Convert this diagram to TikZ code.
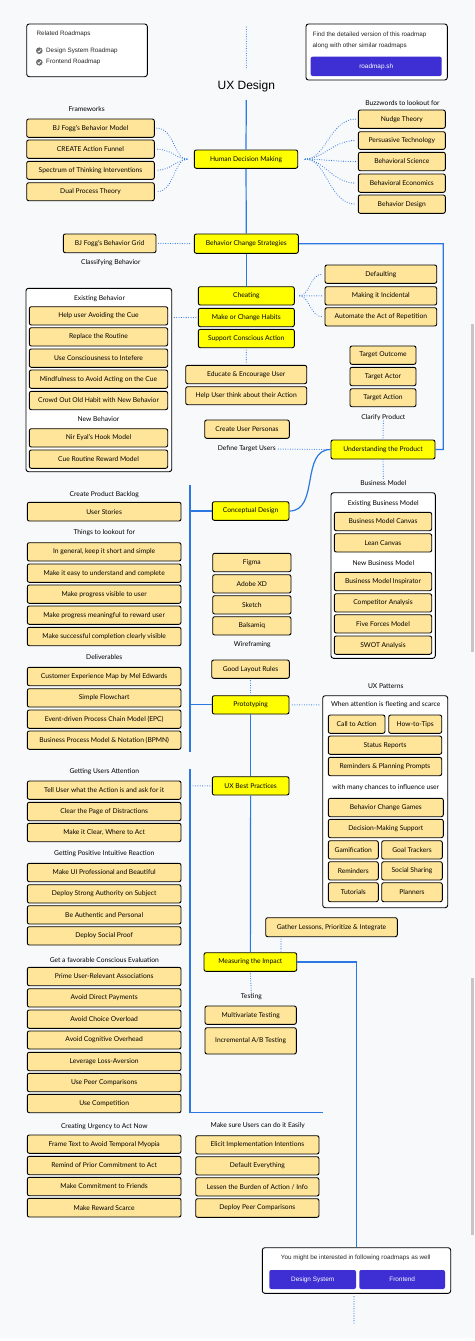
\documentclass[tikz,border=0pt]{standalone}
\usepackage{fontspec}
\setmainfont{Lato}
\newfontfamily\uifont{Liberation Sans}
\usetikzlibrary{calc}
\definecolor{bgc}{HTML}{F8F9FA}
\definecolor{subc}{HTML}{FFE599}
\definecolor{mainc}{HTML}{FFFF00}
\definecolor{lnc}{HTML}{2B78E4}
\definecolor{btnc}{HTML}{3D2FD4}
\definecolor{sbc}{HTML}{C6C6C6}
\definecolor{icc}{HTML}{6E6E6E}
\newcommand\bx[7]{\node[#1, minimum width={(#5)-(#3)}, minimum height={(#6)-(#4)}] (#2) at ({((#3)+(#5))/2},{((#4)+(#6))/2}) {#7};}
\tikzset{
 boxbase/.style={draw=black, line width=0.9pt, rounded corners=2pt, inner sep=0pt, align=center, font=\fontsize{6.7}{7.8}\selectfont, text=black},
 sub/.style={boxbase, fill=subc},
 mainbox/.style={boxbase, fill=mainc},
 cont/.style={draw=black, line width=0.9pt, rounded corners=2.5pt, fill=white, inner sep=0pt},
 btn/.style={fill=btnc, rounded corners=2pt, inner sep=0pt, text=white, font=\uifont\fontsize{6.4}{7.5}\selectfont},
 lbl/.style={inner sep=0.5pt, font=\fontsize{6.7}{7.8}\selectfont, text=black},
 uilbl/.style={inner sep=0.5pt, font=\uifont\fontsize{6.3}{7.5}\selectfont, text=black!85},
 conn/.style={draw=lnc, line width=1.2pt},
 dotc/.style={draw=lnc, line width=1.1pt, line cap=round, dash pattern=on 0pt off 2.4pt},
}
\begin{document}
\begin{tikzpicture}[x=1pt,y=-1pt]
\useasboundingbox (0,0) rectangle (474,1341);
\fill[bgc] (0,0) rectangle (474,1338.3);
\fill[sbc] (470.8,324) rectangle (474,652);
\fill[sbc] (470.8,978) rectangle (474,1235);

% ---------- top info boxes ----------
\bx{cont}{rel}{26.7}{24}{147.3}{76.7}{}
\node[uilbl, anchor=west] (relT) at (36,34.3) {Related Roadmaps};
\fill[icc] (39.3,50.7) circle (3.3);
\draw[white, line width=0.8pt] (37.7,50.8) -- (38.9,52) -- (41,49.5);
\fill[icc] (39.3,62.3) circle (3.3);
\draw[white, line width=0.8pt] (37.7,62.4) -- (38.9,63.6) -- (41,61.1);
\node[uilbl, anchor=west] (relA) at (45.5,50.7) {Design System Roadmap};
\node[uilbl, anchor=west] (relB) at (45.5,62.3) {Frontend Roadmap};

\bx{cont}{find}{306}{24}{447.3}{80}{}
\node[uilbl, anchor=west] (findA) at (312,35) {Find the detailed version of this roadmap};
\node[uilbl, anchor=west] (findB) at (312,45.7) {along with other similar roadmaps};
\bx{btn}{rmsh}{310.7}{56.7}{441.7}{76}{roadmap.sh}

\coordinate (topA) at (246.3,27);
\coordinate (topB) at (246.3,68);
\node[font=\uifont\fontsize{12}{14}\selectfont] (title) at (246.3,86.5) {UX Design};
\coordinate (lineStart) at (246.3,100);

% ---------- Human decision making ----------
\node[lbl] (lFw) at (86.7,109) {Frameworks};
\bx{sub}{fw1}{26.7}{119}{154.3}{137.3}{BJ Fogg's Behavior Model}
\bx{sub}{fw2}{26.7}{140}{154.3}{158.3}{CREATE Action Funnel}
\bx{sub}{fw3}{26.7}{161.3}{154.3}{179.3}{Spectrum of Thinking Interventions}
\bx{sub}{fw4}{26.7}{182.7}{154.3}{200.7}{Dual Process Theory}

\node[lbl] (lBz) at (402.5,102.7) {Buzzwords to lookout for};
\bx{sub}{bz1}{358.3}{110}{445.3}{128.3}{Nudge Theory}
\bx{sub}{bz2}{358.3}{131.7}{445.3}{149.3}{Persuasive Technology}
\bx{sub}{bz3}{358.3}{152.3}{445.3}{170.7}{Behavioral Science}
\bx{sub}{bz4}{358.3}{174}{445.3}{192.3}{Behavioral Economics}
\bx{sub}{bz5}{358.3}{195}{445.3}{213.3}{Behavior Design}

\bx{mainbox}{hdm}{194.3}{150}{297.7}{168.3}{Human Decision Making}
\bx{mainbox}{bcs}{194.3}{234}{298.3}{253.3}{Behavior Change Strategies}
\bx{sub}{bjg}{63.3}{234}{156}{252.7}{BJ Fogg's Behavior Grid}
\node[lbl] (lCb) at (110.8,262.7) {Classifying Behavior};

% ---------- behavior ----------
\bx{cont}{exb}{26}{288.3}{171.7}{471.7}{}
\node[lbl] (lEx) at (99.5,299) {Existing Behavior};
\bx{sub}{eb1}{29.3}{306.7}{167.7}{325}{Help user Avoiding the Cue}
\bx{sub}{eb2}{29.3}{327.7}{167.7}{346}{Replace the Routine}
\bx{sub}{eb3}{29.3}{349}{167.7}{367.3}{Use Consciousness to Intefere}
\bx{sub}{eb4}{29.3}{370}{167.7}{388.3}{Mindfulness to Avoid Acting on the Cue}
\bx{sub}{eb5}{29.3}{391.3}{167.7}{409.7}{Crowd Out Old Habit with New Behavior}
\node[lbl] (lNb) at (98.5,419.3) {New Behavior};
\bx{sub}{nb1}{29.3}{428.7}{167.7}{447}{Nir Eyal's Hook Model}
\bx{sub}{nb2}{29.3}{450}{167.7}{468.3}{Cue Routine Reward Model}

\bx{mainbox}{cheat}{198.3}{286.7}{294.3}{305}{Cheating}
\bx{mainbox}{mch}{198.3}{308.3}{294.3}{326.7}{Make or Change Habits}
\bx{mainbox}{sca}{198.3}{329.3}{294.3}{347.7}{Support Conscious Action}

\bx{sub}{def}{325}{265}{436.7}{283.3}{Defaulting}
\bx{sub}{inc}{325}{286.7}{436.7}{305}{Making it Incidental}
\bx{sub}{aut}{325}{307.7}{436.7}{326}{Automate the Act of Repetition}

\bx{sub}{edu}{185.7}{365.3}{306.7}{383.7}{Educate \& Encourage User}
\bx{sub}{hut}{185.7}{386.7}{306.7}{404.7}{Help User think about their Action}

\bx{sub}{tg1}{350}{346}{416}{364.3}{Target Outcome}
\bx{sub}{tg2}{350}{367.3}{416}{385.7}{Target Actor}
\bx{sub}{tg3}{350}{388.7}{416}{406.7}{Target Action}
\node[lbl] (lClar) at (383.3,417.3) {Clarify Product};

\bx{sub}{cup}{204.7}{420}{289.3}{438.3}{Create User Personas}
\node[lbl] (lDtu) at (246.8,449) {Define Target Users};
\bx{mainbox}{utp}{331}{440}{435}{459}{Understanding the Product}

% ---------- business model ----------
\node[lbl] (lBm) at (383.3,482.7) {Business Model};
\bx{cont}{bmc}{331}{492.7}{435.3}{658.3}{}
\node[lbl] (lEbm) at (383.3,503.3) {Existing Business Model};
\bx{sub}{bm1}{334.3}{512.3}{431.7}{530.7}{Business Model Canvas}
\bx{sub}{bm2}{334.3}{533.7}{431.7}{552}{Lean Canvas}
\node[lbl] (lNbm) at (383.3,562.7) {New Business Model};
\bx{sub}{bm3}{334.3}{572.3}{431.7}{590.7}{Business Model Inspirator}
\bx{sub}{bm4}{334.3}{593.7}{431.7}{612}{Competitor Analysis}
\bx{sub}{bm5}{334.3}{614.7}{431.7}{633}{Five Forces Model}
\bx{sub}{bm6}{334.3}{636}{431.7}{654.3}{SWOT Analysis}

% ---------- conceptual design ----------
\bx{mainbox}{cd}{212.3}{501.7}{289}{520.3}{Conceptual Design}
\node[lbl] (lCpb) at (104.3,494.7) {Create Product Backlog};
\bx{sub}{us}{27.3}{502.3}{181}{521}{User Stories}
\node[lbl] (lTl) at (104.3,532.7) {Things to lookout for};
\bx{sub}{tl1}{27.3}{542.7}{181}{561}{In general, keep it short and simple}
\bx{sub}{tl2}{27.3}{564}{181}{582.3}{Make it easy to understand and complete}
\bx{sub}{tl3}{27.3}{585}{181}{603.3}{Make progress visible to user}
\bx{sub}{tl4}{27.3}{606}{181}{624.3}{Make progress meaningful to reward user}
\bx{sub}{tl5}{27.3}{627.3}{181}{645.7}{Make successful completion clearly visible}
\node[lbl] (lDl) at (104.3,657.3) {Deliverables};
\bx{sub}{dl1}{27.3}{667.3}{181}{685.7}{Customer Experience Map by Mel Edwards}
\bx{sub}{dl2}{27.3}{688.7}{181}{707}{Simple Flowchart}
\bx{sub}{dl3}{27.3}{710}{181}{728.3}{Event-driven Process Chain Model (EPC)}
\bx{sub}{dl4}{27.3}{731}{181}{749.3}{Business Process Model \& Notation (BPMN)}

\bx{sub}{wf1}{212.7}{553.3}{291}{571.7}{Figma}
\bx{sub}{wf2}{212.7}{574.7}{291}{593}{Adobe XD}
\bx{sub}{wf3}{212.7}{595.7}{291}{614}{Sketch}
\bx{sub}{wf4}{212.7}{616.7}{291}{635}{Balsamiq}
\node[lbl] (lWf) at (252.3,645) {Wireframing};
\bx{sub}{glr}{211.7}{660}{289.3}{678.3}{Good Layout Rules}
\bx{mainbox}{proto}{212.3}{695.7}{289}{714}{Prototyping}

% ---------- UX patterns ----------
\node[lbl] (lUxp) at (385.7,686) {UX Patterns};
\bx{cont}{uxp}{322.7}{695.7}{447.7}{907.7}{}
\node[lbl] (lWa) at (385.7,705) {When attention is fleeting and scarce};
\bx{sub}{p1}{328.3}{715}{385}{733.3}{Call to Action}
\bx{sub}{p2}{388.7}{715}{441.7}{733.3}{How-to-Tips}
\bx{sub}{p3}{328.3}{736}{441.7}{754.3}{Status Reports}
\bx{sub}{p4}{328.3}{757.3}{441.7}{775.7}{Reminders \& Planning Prompts}
\node[lbl] (lWm) at (385.7,787.3) {with many chances to influence user};
\bx{sub}{p5}{328.3}{798.3}{443.3}{816.7}{Behavior Change Games}
\bx{sub}{p6}{328.3}{819.3}{443.3}{837.7}{Decision-Making Support}
\bx{sub}{p7}{328.3}{840.7}{378.3}{859}{Gamification}
\bx{sub}{p8}{381.7}{840.7}{442.3}{859}{Goal Trackers}
\bx{sub}{p9}{328.3}{861.7}{378.3}{880}{Reminders}
\bx{sub}{p10}{381.7}{861.7}{442.3}{880}{Social Sharing}
\bx{sub}{p11}{328.3}{882.7}{378.3}{901.7}{Tutorials}
\bx{sub}{p12}{381.7}{882.7}{442.3}{901.7}{Planners}

% ---------- UX best practices ----------
\bx{mainbox}{uxbp}{212.3}{776.7}{289}{795}{UX Best Practices}
\node[lbl] (lGua) at (104.3,771.7) {Getting Users Attention};
\bx{sub}{ga1}{27.3}{781}{181}{799.3}{Tell User what the Action is and ask for it}
\bx{sub}{ga2}{27.3}{802.3}{181}{820.7}{Clear the Page of Distractions}
\bx{sub}{ga3}{27.3}{823.3}{181}{841.7}{Make it Clear, Where to Act}
\node[lbl] (lGpi) at (104.3,854) {Getting Positive Intuitive Reaction};
\bx{sub}{gp1}{27.3}{863.3}{181}{881.7}{Make UI Professional and Beautiful}
\bx{sub}{gp2}{27.3}{884.7}{181}{903}{Deploy Strong Authority on Subject}
\bx{sub}{gp3}{27.3}{905.7}{181}{924}{Be Authentic and Personal}
\bx{sub}{gp4}{27.3}{926.7}{181}{945}{Deploy Social Proof}
\node[lbl] (lGfc) at (104.3,960) {Get a favorable Conscious Evaluation};
\bx{sub}{ce1}{27.3}{967.3}{181}{985.7}{Prime User-Relevant Associations}
\bx{sub}{ce2}{27.3}{988.7}{181}{1007}{Avoid Direct Payments}
\bx{sub}{ce3}{27.3}{1010}{181}{1028.3}{Avoid Choice Overload}
\bx{sub}{ce4}{27.3}{1031}{181}{1049}{Avoid Cognitive Overhead}
\bx{sub}{ce5}{27.3}{1052.3}{181}{1070.7}{Leverage Loss-Aversion}
\bx{sub}{ce6}{27.3}{1073.3}{181}{1091.7}{Use Peer Comparisons}
\bx{sub}{ce7}{27.3}{1094.3}{181}{1112.7}{Use Competition}

% ---------- measuring ----------
\bx{sub}{gath}{265.7}{917.7}{397.3}{936.7}{Gather Lessons, Prioritize \& Integrate}
\bx{mainbox}{mti}{204}{952.7}{296.7}{971.3}{Measuring the Impact}
\node[lbl] (lTest) at (251.3,996.7) {Testing};
\bx{sub}{mt1}{205}{1006}{296.3}{1024.3}{Multivariate Testing}
\bx{sub}{mt2}{205}{1027.7}{296.3}{1054}{Incremental A/B Testing}

\node[lbl] (lCu) at (104.3,1126.7) {Creating Urgency to Act Now};
\bx{sub}{cu1}{27.3}{1135}{181}{1153.3}{Frame Text to Avoid Temporal Myopia}
\bx{sub}{cu2}{27.3}{1156.3}{181}{1174.7}{Remind of Prior Commitment to Act}
\bx{sub}{cu3}{27.3}{1177.3}{181}{1195.7}{Make Commitment to Friends}
\bx{sub}{cu4}{27.3}{1198.3}{181}{1217}{Make Reward Scarce}
\node[lbl] (lMs) at (257.7,1125.3) {Make sure Users can do it Easily};
\bx{sub}{me1}{195.7}{1135.7}{319}{1154}{Elicit Implementation Intentions}
\bx{sub}{me2}{195.7}{1156.7}{319}{1175}{Default Everything}
\bx{sub}{me3}{195.7}{1177.7}{319}{1196}{Lessen the Burden of Action / Info}
\bx{sub}{me4}{195.7}{1198.7}{319}{1217.3}{Deploy Peer Comparisons}

% ---------- final box ----------
\bx{cont}{fin}{262.3}{1247.7}{450.7}{1293.3}{}
\node[uilbl] (finT) at (355.7,1258.3) {You might be interested in following roadmaps as well};
\bx{btn}{dsb}{269.3}{1270}{356}{1289}{Design System}
\bx{btn}{feb}{359.3}{1270}{445}{1289}{Frontend}

% ---------- connectors ----------
\coordinate (xL) at (190,0);
\coordinate (xG) at (281,0);
\coordinate (xB) at (354,0);
\coordinate (cR) at (443.3,243.7);
\coordinate (l1t) at (190,485);
\coordinate (l1b) at (190,751.7);
\coordinate (l2t) at (190,769);
\coordinate (l2c) at (190,1112.7);
\coordinate (l2e) at (322.7,1112.7);
\coordinate (botEnd) at (354,1323.3);

\draw[dotc] (topA) -- (topB);
\draw[conn] (lineStart) -- (hdm.north);
\draw[conn] (hdm) -- (bcs);
\draw[conn] (bcs) -- (cheat);
\foreach \t in {fw1,fw2,fw3,fw4}
  \draw[dotc, shorten <=7pt, shorten >=2pt] (hdm.west) to[out=180,in=0] (\t.east);
\foreach \t in {bz1,bz2,bz3,bz4,bz5}
  \draw[dotc, shorten <=7pt, shorten >=2pt] (hdm.east) to[out=0,in=180] (\t.west);
\draw[dotc, shorten <=2pt, shorten >=2pt] (bjg.east) -- (bcs.west);
\draw[conn] (bcs.east) -- (cR) |- (utp.east);
\foreach \t in {def,inc,aut}
  \draw[dotc, shorten <=5pt, shorten >=2pt] (cheat.east) to[out=0,in=180] (\t.west);
\draw[dotc, shorten <=2pt, shorten >=2pt] (mch.west) -- (mch.west -| exb.east);
\draw[dotc, shorten <=2pt, shorten >=2pt] (sca.south) -- (edu.north);
\draw[dotc] (lClar.south) -- (utp.north);
\draw[dotc, shorten <=2pt, shorten >=2pt] (lDtu.east) -- (utp.west);
\draw[conn] (utp.west) .. controls +(-30,0) and +(30,0) .. (cd.east);
\draw[dotc] (utp.south) -- (lBm.north);
\draw[conn] (l1t) -- (l1b);
\draw[conn] (cd.west) -- (cd.west -| xL);
\draw[conn] (proto.west) -- (proto.west -| xL);
\draw[dotc, shorten <=2pt] (glr.south) -- (proto.north);
\draw[dotc, shorten <=3pt, shorten >=2pt] (proto.east) -- (proto.east -| uxp.west);
\draw[conn] (proto) -- (uxbp);
\draw[conn] (uxbp) -- (mti);
\draw[conn] (l2t) -- (l2c) -- (l2e);
\draw[dotc, shorten <=2pt, shorten >=2pt] (uxbp.west) -- (uxbp.west -| xL);
\draw[dotc, shorten <=2pt] (gath.south -| xG) -- (mti.north -| xG);
\draw[conn] (mti.east) -| (fin.north);
\draw[dotc, shorten <=2pt] (mti.south) -- (lTest.north);
\draw[dotc, shorten <=3pt] (fin.south -| xB) -- (botEnd);
\end{tikzpicture}
\end{document}
